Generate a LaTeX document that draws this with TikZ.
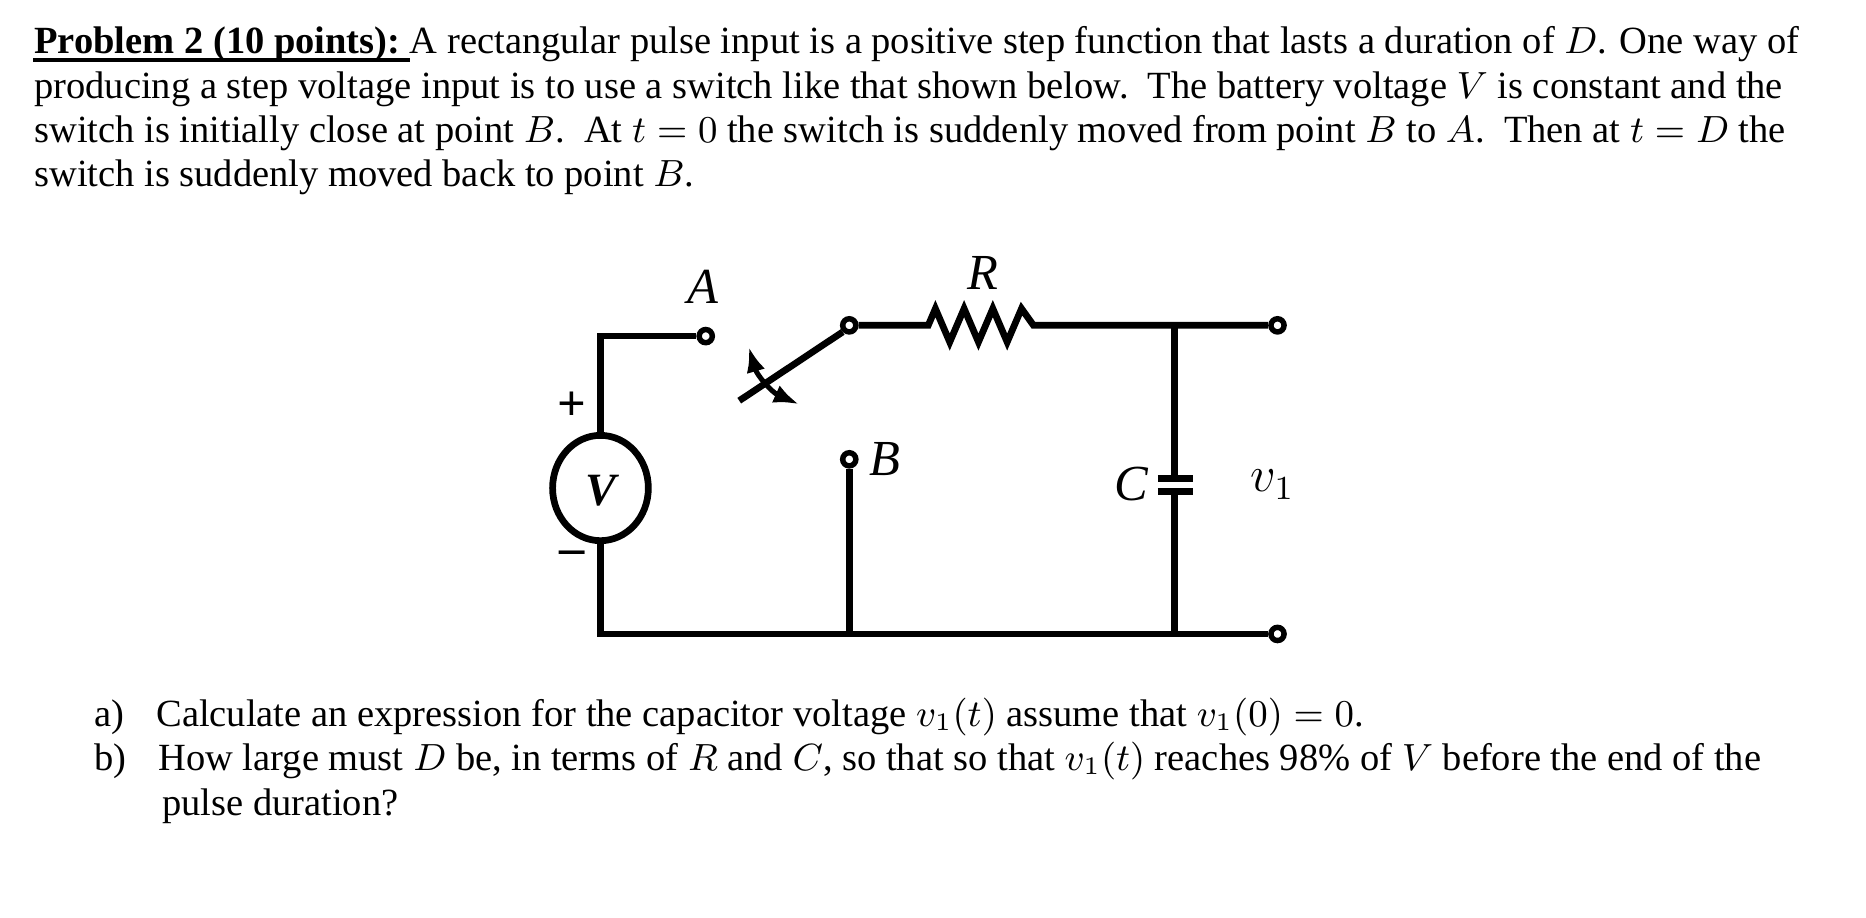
\documentclass[tikz,border=0pt]{standalone}
\usepackage{fontspec}
\setmainfont{Liberation Serif}
\usetikzlibrary{arrows.meta,shapes.geometric}
\begin{document}
\begin{tikzpicture}[x=0.01cm,y=-0.01cm,
  txt/.style={anchor=base west,inner sep=0pt,font=\fontsize{9.15pt}{11pt}\selectfont},
  wire/.style={line width=1.6pt},
  term/.style={circle,draw,line width=1.3pt,inner sep=0pt,minimum size=0.11cm,fill=white},
  lab/.style={font=\fontsize{11pt}{13pt}\selectfont\itshape\bfseries,inner sep=0pt}]
\useasboundingbox (0,0) rectangle (1560,767);
\node[txt] (l1) at (28,45) {\textbf{Problem 2 (10 points):\ }A rectangular pulse input is a positive step function that lasts a duration of $D$. One way of};
\draw[line width=0.9pt] (28,50) -- (343,50);
\node[txt] (l2) at (28,82) {producing a step voltage input is to use a switch like that shown below.\ \ The battery voltage $V$ is constant and the};
\node[txt] (l3) at (28,119) {switch is initially close at point $B$.\ \ At $t=0$ the switch is suddenly moved from point $B$ to $A$.\ \ Then at $t=D$ the};
\node[txt] (l4) at (28,156) {switch is suddenly moved back to point $B$.};
\node[txt] (qa) at (78,607) {a)\hspace{0.27cm}Calculate an expression for the capacitor voltage $v_1(t)$ assume that $v_1(0)=0$.};
\node[txt] (qb) at (78,644) {b)\hspace{0.27cm}How large must $D$ be, in terms of $R$ and $C$, so that so that $v_1(t)$ reaches 98\% of $V$ before the end of the};
\node[txt] (qc) at (135,682) {pulse duration?};
% circuit
\node[draw,ellipse,line width=1.6pt,minimum width=0.8cm,minimum height=0.88cm,inner sep=0pt] (src) at (502,408) {};
\node[lab] at (502,410) {V};
\node[font=\fontsize{12pt}{14pt}\selectfont\bfseries] at (478,340) {+};
\node[font=\fontsize{12pt}{14pt}\selectfont\bfseries] at (478,466) {--};
\coordinate (tl) at (502,281);
\coordinate (bl) at (502,530);
\node[term] (A) at (590,281) {};
\node[lab,font=\fontsize{12pt}{14pt}\selectfont\itshape] at (588,240) {A};
\node[term] (P) at (710,272) {};
\node[term] (B) at (710,384) {};
\node[lab,font=\fontsize{12pt}{14pt}\selectfont\itshape] at (740,384) {B};
\coordinate (rs) at (776,272);
\coordinate (re) at (870,272);
\coordinate (cj) at (982,272);
\node[term] (o1) at (1068,272) {};
\node[term] (o2) at (1068,530) {};
\coordinate (cb) at (982,530);
\coordinate (bb) at (710,530);
\node[lab,font=\fontsize{12pt}{14pt}\selectfont\itshape] at (822,228) {R};
\node[lab,font=\fontsize{12pt}{14pt}\selectfont\itshape\mdseries] at (946,405) {C};
\node[lab,font=\fontsize{12pt}{14pt}\selectfont\itshape\mdseries] at (1064,405) {$v_1$};
\draw[wire] (src.north) -- (tl) -- (A.west);
\draw[wire] (src.south) -- (bl) -- (bb) -- (cb) -- (o2.west);
\draw[wire] (B.south) -- (bb);
\draw[wire] (P.east) -- (rs) -- ++(6,-14) -- ++(12,28) -- ++(12,-28) -- ++(12,28) -- ++(12,-28) -- ++(12,28) -- ++(12,-28) -- ++(10,14) -- (re) -- (cj) -- (o1.west);
\draw[wire] (P.south west) -- (618,335);
\draw[line width=1.2pt,{Latex[length=6pt]}-{Latex[length=6pt]}] (626,290) to[bend right=25] (668,338);
\draw[wire] (cj) -- (982,400);
\draw[wire] (968,400) -- (997,400);
\draw[wire] (968,411) -- (997,411);
\draw[wire] (982,411) -- (cb);
\end{tikzpicture}
\end{document}
